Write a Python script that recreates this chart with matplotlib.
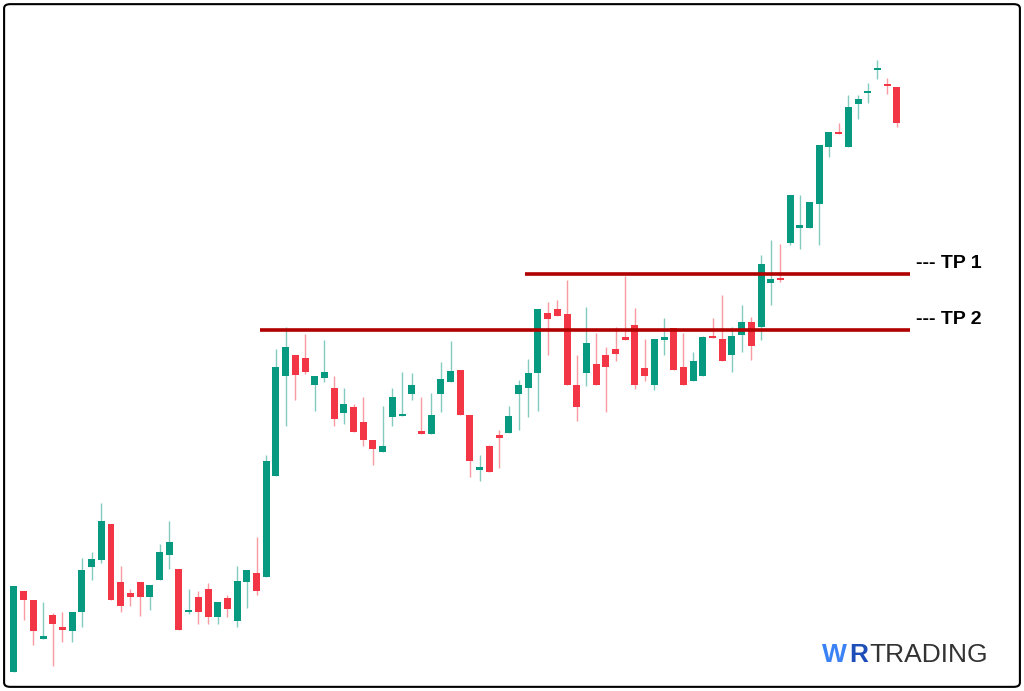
import matplotlib
matplotlib.use("Agg")
import matplotlib.pyplot as plt
from matplotlib.patches import FancyBboxPatch
import numpy as np

# OHLC per candle (price units)
opens = [28, 109, 100, 61, 85, 73, 69, 88, 133, 140, 176, 118, 107, 118, 103, 120, 145, 131, 88, 103,
         111, 83, 102, 79, 118, 127, 123, 224, 324, 345, 342, 315, 322, 312, 287, 293, 278, 260, 248, 283,
         284, 306, 269, 266, 306, 318, 330, 285, 230, 254, 265, 267, 306, 312, 327, 387, 391, 386, 315, 327,
         336, 345, 351, 363, 375, 332, 315, 360, 372, 333, 319, 324, 363, 361, 345, 365, 378, 373, 417, 422,
         457, 472, 472, 496, 553, 567, 553, 596, 607, 630, 615, 613]
highs = [114, 109, 100, 98, 87, 88, 88, 142, 148, 197, 176, 134, 111, 118, 115, 156, 179, 131, 111, 109,
         117, 98, 105, 134, 130, 163, 245, 351, 373, 345, 366, 324, 360, 324, 312, 296, 303, 260, 294, 312,
         328, 327, 303, 307, 338, 359, 330, 285, 245, 255, 270, 294, 320, 341, 391, 398, 400, 420, 345, 393,
         367, 353, 373, 424, 392, 361, 361, 382, 372, 367, 348, 364, 382, 405, 373, 395, 383, 445, 460, 456,
         505, 505, 498, 555, 568, 577, 605, 605, 617, 640, 622, 613]
lows = [28, 80, 55, 61, 34, 58, 58, 73, 120, 137, 100, 88, 94, 84, 90, 120, 131, 70, 86, 76,
        76, 76, 83, 73, 92, 105, 123, 224, 274, 300, 326, 289, 318, 274, 276, 268, 254, 235, 248, 274,
        284, 300, 266, 266, 288, 318, 285, 223, 219, 228, 232, 267, 270, 283, 289, 345, 384, 315, 279, 314,
        315, 288, 339, 360, 311, 319, 310, 345, 330, 315, 319, 324, 362, 339, 328, 348, 340, 360, 395, 418,
        455, 451, 472, 455, 543, 566, 553, 581, 597, 621, 606, 573]
closes = [114, 100, 69, 64, 76, 70, 88, 130, 141, 179, 100, 94, 103, 103, 115, 148, 158, 70, 89, 88,
          83, 98, 91, 119, 130, 109, 239, 333, 353, 325, 328, 324, 328, 281, 296, 268, 260, 251, 254, 303,
          285, 315, 266, 285, 321, 329, 285, 239, 233, 228, 262, 284, 315, 327, 391, 381, 384, 315, 293, 357,
          315, 333, 346, 360, 315, 324, 361, 363, 330, 315, 339, 363, 362, 339, 364, 378, 354, 436, 421, 420,
          505, 475, 498, 555, 568, 566, 593, 601, 608, 631, 614, 577]

tp_levels = [426, 370]
tp_starts = [52.7, 25.4]
tp_end = 92.4
tp_labels = ["--- TP 1", "--- TP 2"]

GREEN = "#089981"
RED = "#f23645"

fig = plt.figure(figsize=(10.24, 6.91), dpi=100)
ax = fig.add_axes([0, 0, 1, 1])
ax.set_xlim(-1.44, 104.1)
ax.set_ylim(9, 700)
ax.axis("off")

x = np.arange(len(opens))
o = np.array(opens); c = np.array(closes)
up = c >= o
colors = np.where(up, GREEN, RED)
ax.vlines(x, lows, highs, colors=colors, linewidth=1, alpha=0.5, zorder=2)
bottom = np.minimum(o, c)
height = np.maximum(np.abs(c - o), 2.5)
ax.bar(x, height, bottom=bottom, width=0.72, color=colors, zorder=3)

for lvl, x0, lab in zip(tp_levels, tp_starts, tp_labels):
    ax.hlines(lvl, x0, tp_end, color="#b00000", linewidth=2.6, zorder=4)
    ax.text(tp_end + 0.6, lvl + 11, lab, fontsize=14, fontweight="bold", family="Liberation Sans",
            va="center", ha="left", color="black")

# logo
fig.text(0.803, 0.052, "W", fontsize=19, fontweight="bold", family="Liberation Sans", color="#3b82f6", va="center")
fig.text(0.829, 0.052, "R", fontsize=19, fontweight="bold", family="Liberation Sans", color="#1e4fb8", va="center")
fig.text(0.849, 0.052, "TRADING", fontsize=19, family="Liberation Sans", color="#333333", va="center")

fig.patches.append(FancyBboxPatch((0.004, 0.006), 0.992, 0.988, boxstyle="round,pad=0,rounding_size=0.006",
                                  transform=fig.transFigure, fill=False, edgecolor="black", linewidth=1.5))

fig.savefig("out.png", dpi=100)
